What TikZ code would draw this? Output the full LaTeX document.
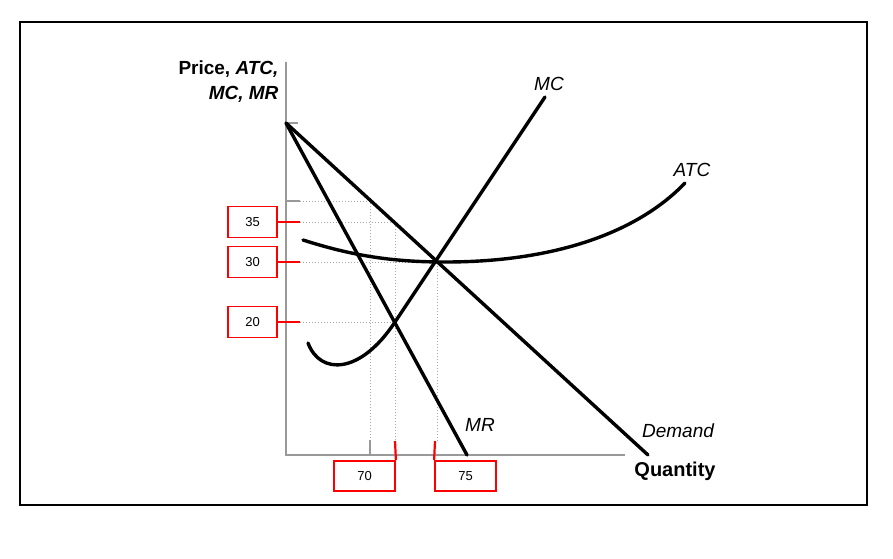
\documentclass[tikz,border=0pt]{standalone}
\usepackage{fontspec}
\setmainfont{Liberation Sans}
\begin{document}
\begin{tikzpicture}[x=1pt,y=-1pt,
  axis/.style={draw=gray!80,line width=1.6pt},
  curve/.style={line width=3.4pt,line cap=round},
  guide/.style={draw=gray!70,dotted,line width=1pt},
  rbox/.style={draw=red,line width=1.8pt,minimum width=49pt,minimum height=31pt,inner sep=0pt,font=\fontsize{13}{15}\selectfont},
  rline/.style={draw=red,line width=2.2pt},
  lab/.style={font=\itshape\fontsize{19}{21}\selectfont}]
\useasboundingbox (0,0) rectangle (893,558);
\draw[line width=1.4pt] (20,22) rectangle (867,505);
% guides
\draw[guide] (300,201) -- (370,201) -- (370,440);
\draw[guide] (300,222) -- (395,222) -- (395,442);
\draw[guide] (300,262) -- (437,262) -- (437,442);
\draw[guide] (300,322) -- (395,322);
% axes
\coordinate (O) at (286,455);
\coordinate (ytop) at (286,62);
\coordinate (xend) at (625,455);
\draw[axis] (ytop) -- (O) -- (xend);
\draw[axis] (286,123) -- (298,123);
\draw[axis] (286,201) -- (300,201);
\draw[axis] (370,455) -- (370,440);
% curves
\coordinate (P) at (286,123);
\coordinate (D) at (648,455);
\coordinate (MRe) at (467,455);
\draw[curve] (P) -- (D);
\draw[curve] (P) -- (MRe);
\draw[curve] (308,343) .. controls (320,375) and (360,375) .. (395,322) -- (545,97);
\draw[curve] (303,240) .. controls (350,255) and (390,262) .. (445,262) .. controls (560,262) and (640,230) .. (685,183);
% labels
\node[lab] (mc) at (549,84) {MC};
\node[lab] (atc) at (692,170) {ATC};
\node[lab] (mr) at (480,425) {MR};
\node[lab] (dem) at (678,431) {Demand};
\node[font=\bfseries\fontsize{20}{22}\selectfont] (q) at (675,471) {Quantity};
\node[font=\bfseries\fontsize{19}{25}\selectfont,align=right,anchor=north east] (py) at (282,57) {Price, \textit{ATC,}\\\textit{MC, MR}};
% red boxes
\node[rbox] (b35) at (252.5,222) {35};
\node[rbox] (b30) at (252.5,262) {30};
\node[rbox] (b20) at (252.5,322) {20};
\draw[rline] (b35.east) -- (300,222);
\draw[rline] (b30.east) -- (300,262);
\draw[rline] (b20.east) -- (300,322);
\node[rbox,minimum width=61pt,minimum height=30pt] (b70) at (364.5,476) {70};
\node[rbox,minimum width=61pt,minimum height=30pt] (b75) at (465.5,476) {75};
\draw[rline] (b70.north east) -- (395,441);
\draw[rline] (b75.north west) -- (435,441);
\end{tikzpicture}
\end{document}
